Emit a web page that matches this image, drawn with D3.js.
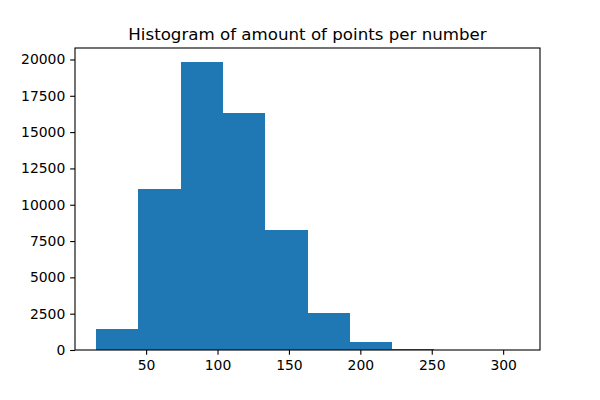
<!DOCTYPE html>
<html>
<head>
<meta charset="utf-8">
<script src="https://cdn.jsdelivr.net/npm/d3@7"></script>
<style>
body { margin: 0; background: #fff; }
text { font-family: "DejaVu Sans", sans-serif; fill: #000; }
</style>
</head>
<body>
<svg id="chart" width="600" height="400"></svg>
<script>
const binEdges = [15, 44.6, 74.2, 103.8, 133.4, 163, 192.6, 222.2, 251.8, 281.4, 311];
const counts = [1445, 11090, 19800, 16320, 8250, 2560, 570, 70, 10, 3];
const xTicks = [50, 100, 150, 200, 250, 300];
const yTicks = [0, 2500, 5000, 7500, 10000, 12500, 15000, 17500, 20000];
const title = "Histogram of amount of points per number";

const mLeft = 75, mRight = 540, mTop = 48, mBottom = 350;
const svg = d3.select("#chart");

const xr = binEdges[binEdges.length - 1] - binEdges[0];
const x = d3.scaleLinear()
  .domain([binEdges[0] - 0.05 * xr, binEdges[binEdges.length - 1] + 0.05 * xr])
  .range([mLeft, mRight]);
const y = d3.scaleLinear()
  .domain([0, d3.max(counts) * 1.05])
  .range([mBottom, mTop]);

const bins = counts.map((c, i) => ({ x0: binEdges[i], x1: binEdges[i + 1], c }));

svg.append("g").attr("shape-rendering", "crispEdges")
  .selectAll("rect").data(bins).join("rect")
  .attr("x", d => x(d.x0))
  .attr("width", d => x(d.x1) - x(d.x0))
  .attr("y", d => y(d.c))
  .attr("height", d => y(0) - y(d.c))
  .attr("fill", "#1f77b4");

const tickLen = 4.86, pad = 4.86;
const fs = 13.9;

const xAxis = d3.axisBottom(x).tickValues(xTicks).tickSize(tickLen).tickPadding(pad).tickFormat(d3.format("d"));
const gx = svg.append("g").attr("transform", `translate(0,${mBottom})`).call(xAxis);
gx.select(".domain").remove();
gx.selectAll("line").attr("stroke", "#000").attr("stroke-width", 1.1);
gx.selectAll("text").attr("font-size", fs).attr("font-family", "DejaVu Sans").attr("fill", "#000");

const yAxis = d3.axisLeft(y).tickValues(yTicks).tickSize(tickLen).tickPadding(pad).tickFormat(d3.format("d"));
const gy = svg.append("g").attr("transform", `translate(${mLeft},0)`).call(yAxis);
gy.select(".domain").remove();
gy.selectAll("line").attr("stroke", "#000").attr("stroke-width", 1.1);
gy.selectAll("text").attr("font-size", fs).attr("font-family", "DejaVu Sans").attr("fill", "#000");

svg.append("rect")
  .attr("x", mLeft).attr("y", mTop)
  .attr("width", mRight - mLeft).attr("height", mBottom - mTop)
  .attr("fill", "none").attr("stroke", "#000").attr("stroke-width", 1.1);

svg.append("text")
  .attr("x", (mLeft + mRight) / 2).attr("y", mTop - 8.3)
  .attr("text-anchor", "middle")
  .attr("font-size", 16.67)
  .text(title);
</script>
</body>
</html>
